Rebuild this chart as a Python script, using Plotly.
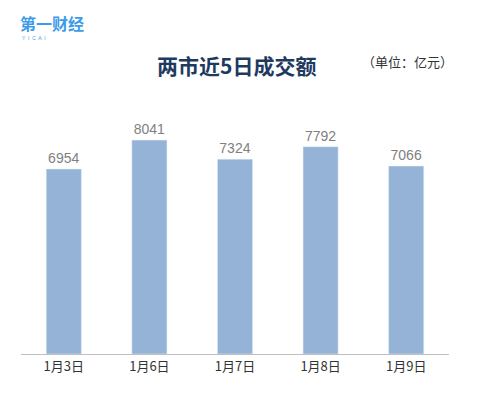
import plotly.graph_objects as go

dates = ["1月3日", "1月6日", "1月7日", "1月8日", "1月9日"]
turnover = [6954, 8041, 7324, 7792, 7066]

W, H = 487, 412
L, R, T, B = 13, 46, 80, 66

fig = go.Figure(go.Bar(
    x=dates, y=turnover,
    marker_color="#95b3d7",
    width=0.41,
    text=[str(v) for v in turnover],
    textposition="outside",
    textfont=dict(size=14, color="#7f7f7f", family="Arial"),
    cliponaxis=False,
))

# annotations placed in pixel coords, converted to paper coords below
notes = [
    ("<b>两市近5日成交额</b>", 228, 57, "center", 21, "#1f3a5f", "Noto Sans CJK SC"),
    ("（单位：亿元）", 447, 54, "right", 13, "#333333", "Noto Sans CJK SC"),
    ("<b>第一财经</b>", 10, 15, "left", 16, "#3d9be9", "Noto Sans CJK SC"),
    ("Y  I  C  A  I", 12, 30, "left", 5, "#3d9be9", "Arial"),
]
pw, ph = W - L - R, H - T - B
anns = [dict(text=t, x=(x - L) / pw, y=(H - B - y) / ph, xref="paper", yref="paper",
             xanchor=xa, yanchor="middle", showarrow=False,
             font=dict(size=s, color=c, family=f))
        for t, x, y, xa, s, c, f in notes]

fig.update_layout(
    width=W, height=H,
    paper_bgcolor="white", plot_bgcolor="white",
    margin=dict(l=L, r=R, t=T, b=B),
    showlegend=False,
    xaxis=dict(showline=True, linecolor="#bfbfbf", linewidth=1, ticks="",
               tickfont=dict(size=13, color="#333333", family="Noto Sans CJK SC")),
    yaxis=dict(visible=False, range=[0, 10000]),
    annotations=anns,
)

fig.write_html("out.html")
